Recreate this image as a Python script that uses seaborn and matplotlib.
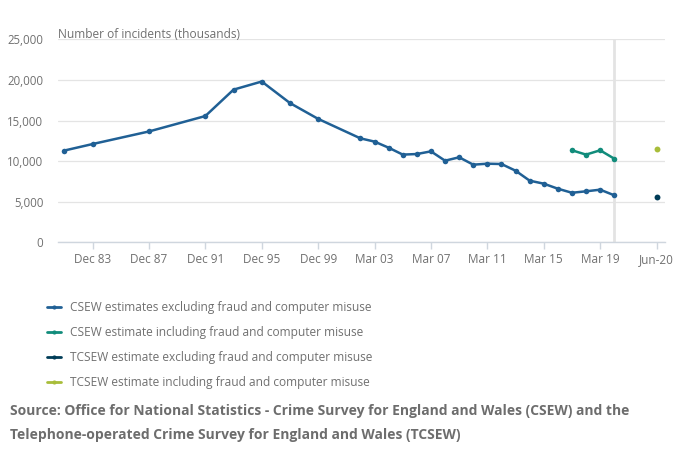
import matplotlib
matplotlib.use("Agg")
import matplotlib.pyplot as plt
import seaborn as sns
import pandas as pd
from matplotlib.lines import Line2D

# ---- data ----
# category positions (one slot per year, Dec 81 = 0)
main_pos = [0, 2, 6, 10, 12, 14, 16, 18, 21, 22, 23, 24, 25, 26, 27, 28, 29, 30,
            31, 32, 33, 34, 35, 36, 37, 38, 39]
main_vals = [11300, 12100, 13650, 15550, 18800, 19800, 17150, 15200, 12800, 12400,
             11650, 10800, 10870, 11200, 10050, 10470, 9560, 9680, 9640, 8820,
             7590, 7220, 6600, 6100, 6280, 6480, 5790]
incl_pos = [36, 37, 38, 39]
incl_vals = [11330, 10800, 11330, 10300]
tc_excl_pos = [42]
tc_excl_vals = [5620]
tc_incl_pos = [42]
tc_incl_vals = [11530]

tick_pos = [2, 6, 10, 14, 18, 22, 26, 30, 34, 38, 42]
tick_labels = ["Dec 83", "Dec 87", "Dec 91", "Dec 95", "Dec 99", "Mar 03",
               "Mar 07", "Mar 11", "Mar 15", "Mar 19", "Jun-20"]
y_ticks = [0, 5000, 10000, 15000, 20000, 25000]

series_names = ["CSEW estimates excluding fraud and computer misuse",
                "CSEW estimate including fraud and computer misuse",
                "TCSEW estimate excluding fraud and computer misuse",
                "TCSEW estimate including fraud and computer misuse"]
colors = ["#206095", "#118c7b", "#003c57", "#a8bd3a"]

sns.set_theme(style="white")
plt.rcParams["font.family"] = ["Open Sans", "DejaVu Sans"]

fig = plt.figure(figsize=(7, 4.63), dpi=100)
ax = fig.add_axes([58/700, 1 - 242.3/463, (665-58)/700, (242.3-39.3)/463])

df = pd.concat([
    pd.DataFrame({"x": main_pos, "y": main_vals, "s": series_names[0]}),
    pd.DataFrame({"x": incl_pos, "y": incl_vals, "s": series_names[1]}),
])
sns.lineplot(data=df, x="x", y="y", hue="s", hue_order=series_names[:2],
             palette=colors[:2], marker="o", markersize=4, markeredgewidth=0,
             linewidth=1.8, ax=ax, legend=False, zorder=3)
sns.scatterplot(x=tc_excl_pos, y=tc_excl_vals, color=colors[2], s=18,
                linewidth=0, ax=ax, zorder=3)
sns.scatterplot(x=tc_incl_pos, y=tc_incl_vals, color=colors[3], s=18,
                linewidth=0, ax=ax, zorder=3)

ax.axvline(39, color="#e3e3e3", linewidth=2, zorder=1)

ax.set_xlim(-0.45, 42.6)
ax.set_ylim(0, 25000)
ax.set_yticks(y_ticks)
ax.set_yticklabels([f"{v:,}" for v in y_ticks])
ax.set_xticks(tick_pos)
ax.set_xticklabels(tick_labels)
ax.set_xlabel("")
ax.set_ylabel("")
ax.grid(axis="y", color="#e4e4e4", linewidth=0.9)
ax.grid(axis="x", visible=False)
for side in ["top", "right", "left"]:
    ax.spines[side].set_visible(False)
ax.spines["bottom"].set_color("#cfd6de")
ax.spines["bottom"].set_linewidth(1)
ax.tick_params(axis="x", length=5, width=1, color="#cfd6de", labelsize=8.5,
               labelcolor="#707070", pad=3, bottom=True)
ax.tick_params(axis="y", length=0, labelsize=8.3, labelcolor="#707070", pad=10.5)
for lab in ax.get_yticklabels():
    lab.set_horizontalalignment("right")

fig.text(58/700, 1 - 34/463, "Number of incidents (thousands)", fontsize=8.6,
         color="#707070", va="center", ha="left")

handles = [Line2D([0], [0], color=c, linewidth=2.0, marker="o", markersize=3,
                  markeredgewidth=0) for c in colors]
leg = fig.legend(handles, series_names, loc="upper left",
                 bbox_to_anchor=(41/700, 1 - 295/463), frameon=False,
                 fontsize=8.6, labelcolor="#707070", handlelength=1.2,
                 handletextpad=0.7, labelspacing=1.0, borderpad=0)

fig.text(10/700, 1 - 411/463,
         "Source: Office for National Statistics - Crime Survey for England and Wales (CSEW) and the",
         fontsize=10.0, fontweight="bold", color="#6d6d6d", va="center", ha="left")
fig.text(10/700, 1 - 435/463,
         "Telephone-operated Crime Survey for England and Wales (TCSEW)",
         fontsize=10.0, fontweight="bold", color="#6d6d6d", va="center", ha="left")

fig.savefig("out.png", dpi=100)
